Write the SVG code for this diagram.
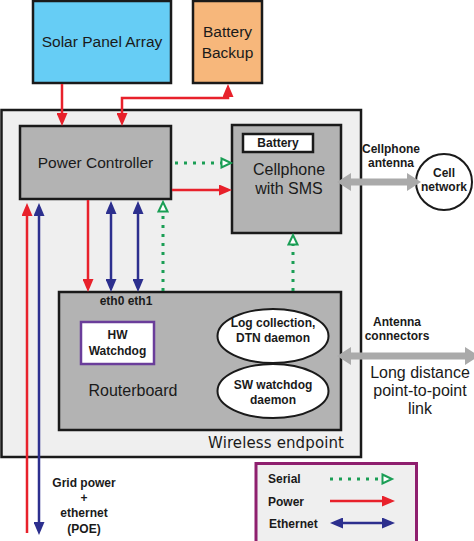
<svg xmlns="http://www.w3.org/2000/svg" width="474" height="541" viewBox="0 0 474 541">
<style>
.box{stroke:#1a1a1a;stroke-width:2.5}
.t{font-family:"Liberation Sans",Arial,sans-serif;fill:#1a1a1a;text-anchor:middle}
.r{font-size:16px}
.b{font-size:12px;font-weight:bold}
.red{stroke:#e8212b;stroke-width:2.5;fill:none}
.blue{stroke:#2c2f8e;stroke-width:2.5;fill:none}
.green{stroke:#1a9e55;stroke-width:3;stroke-dasharray:3 6;fill:none}
.gray{stroke:#aaaaaa;stroke-width:7;fill:none}
</style>
<defs>
<marker id="ar" markerUnits="userSpaceOnUse" markerWidth="13" markerHeight="11" refX="9" refY="5.5" orient="auto-start-reverse"><path d="M0,0 L13,5.5 L0,11 z" fill="#e8212b"/></marker>
<marker id="ab" markerUnits="userSpaceOnUse" markerWidth="13" markerHeight="11" refX="9" refY="5.5" orient="auto-start-reverse"><path d="M0,0 L13,5.5 L0,11 z" fill="#2c2f8e"/></marker>
<marker id="ag" markerUnits="userSpaceOnUse" markerWidth="14" markerHeight="12" refX="2" refY="6" orient="auto-start-reverse"><path d="M1.5,1.5 L11,6 L1.5,10.5 z" fill="#ffffff" stroke="#1a9e55" stroke-width="2"/></marker>
<marker id="ay" markerUnits="userSpaceOnUse" markerWidth="14" markerHeight="18" refX="4" refY="9" orient="auto-start-reverse"><path d="M0,0 L14,9 L0,18 z" fill="#aaaaaa"/></marker>
</defs>
<rect width="474" height="541" fill="#ffffff"/>

<g id="wireless-endpoint">
<rect class="box" x="1.5" y="110" width="359.5" height="347" fill="#efefef"/>
<text class="t" x="276" y="448" style="font-family:'DejaVu Sans',sans-serif;font-size:15px" textLength="136">Wireless endpoint</text>
</g>

<g id="solar-panel-array">
<rect class="box" x="33" y="1" width="138" height="82" fill="#66cdf5"/>
<text class="t r" x="102" y="47" style="font-size:15.5px">Solar Panel Array</text>
</g>

<g id="battery-backup">
<rect class="box" x="193" y="1" width="69" height="82" fill="#f7b77b"/>
<text class="t r" x="227.5" y="37" style="font-size:15.5px">Battery</text>
<text class="t r" x="227.5" y="58" style="font-size:15.5px">Backup</text>
</g>

<g id="power-controller">
<rect class="box" x="20" y="126" width="151" height="73" fill="#b3b3b3"/>
<text class="t r" x="95.5" y="168" style="font-size:15.5px">Power Controller</text>
</g>

<g id="cellphone">
<rect class="box" x="232" y="125" width="109" height="108" fill="#b3b3b3"/>
<rect class="box" x="243" y="134" width="70" height="18" fill="#ffffff"/>
<text class="t b" x="278" y="147">Battery</text>
<text class="t r" x="289" y="175">Cellphone</text>
<text class="t r" x="289" y="194">with SMS</text>
</g>

<g id="cell-network">
<circle cx="444" cy="182" r="28" fill="#ffffff" stroke="#1a1a1a" stroke-width="2"/>
<text class="t b" x="444" y="177">Cell</text>
<text class="t b" x="444" y="191">network</text>
</g>

<g id="routerboard">
<rect class="box" x="59" y="292" width="282" height="138" fill="#b3b3b3"/>
<text class="t b" x="112" y="305">eth0</text>
<text class="t b" x="140" y="305">eth1</text>
<text class="t r" x="133" y="396">Routerboard</text>
</g>

<g id="hw-watchdog">
<rect x="81" y="322" width="73" height="42" fill="#ffffff" stroke="#6a3d9a" stroke-width="2.5"/>
<text class="t b" x="117.5" y="339">HW</text>
<text class="t b" x="117.5" y="355">Watchdog</text>
</g>

<g id="log-collection">
<ellipse cx="273" cy="336" rx="55.5" ry="27" fill="#ffffff" stroke="#1a1a1a" stroke-width="2"/>
<text class="t b" x="273" y="327">Log collection,</text>
<text class="t b" x="273" y="342">DTN daemon</text>
</g>

<g id="sw-watchdog">
<ellipse cx="273" cy="391" rx="55.5" ry="27" fill="#ffffff" stroke="#1a1a1a" stroke-width="2"/>
<text class="t b" x="273" y="389">SW watchdog</text>
<text class="t b" x="273" y="404">daemon</text>
</g>

<g id="labels">
<text class="t b" x="391" y="153">Cellphone</text>
<text class="t b" x="391" y="167">antenna</text>
<text class="t b" x="397" y="326">Antenna</text>
<text class="t b" x="397" y="340">connectors</text>
<text class="t r" x="420" y="378">Long distance</text>
<text class="t r" x="420" y="396">point-to-point</text>
<text class="t r" x="420" y="414">link</text>
<text class="t b" x="84" y="487">Grid power</text>
<text class="t b" x="84" y="502">+</text>
<text class="t b" x="84" y="517">ethernet</text>
<text class="t b" x="84" y="533">(POE)</text>
</g>

<g id="connectors">
<line class="red" x1="62" y1="84" x2="62" y2="122" marker-end="url(#ar)"/>
<polyline class="red" points="122,122 122,98 228,98 228,88" marker-start="url(#ar)" marker-end="url(#ar)"/>
<line class="green" x1="175" y1="163" x2="222" y2="163" marker-end="url(#ag)"/>
<line class="red" x1="172" y1="190" x2="228" y2="190" marker-end="url(#ar)"/>
<line class="red" x1="88" y1="200" x2="88" y2="288" marker-end="url(#ar)"/>
<line class="blue" x1="111" y1="205" x2="111" y2="288" marker-start="url(#ab)" marker-end="url(#ab)"/>
<line class="blue" x1="138" y1="205" x2="138" y2="288" marker-start="url(#ab)" marker-end="url(#ab)"/>
<line class="green" x1="163" y1="291" x2="163" y2="211" marker-end="url(#ag)"/>
<line class="green" x1="293" y1="291" x2="293" y2="244" marker-end="url(#ag)"/>
<line class="red" x1="27" y1="533" x2="27" y2="207" marker-end="url(#ar)"/>
<line class="blue" x1="39" y1="207" x2="39" y2="531" marker-start="url(#ab)" marker-end="url(#ab)"/>
<line class="gray" x1="347" y1="182" x2="411" y2="182" marker-start="url(#ay)" marker-end="url(#ay)"/>
<line class="gray" x1="347" y1="356" x2="469" y2="356" marker-start="url(#ay)" marker-end="url(#ay)"/>
</g>

<g id="legend">
<rect x="256" y="463.5" width="160.5" height="80" fill="#efefef" stroke="#8e1f6e" stroke-width="3"/>
<text class="t b" x="268" y="483" style="text-anchor:start">Serial</text>
<text class="t b" x="268" y="506" style="text-anchor:start">Power</text>
<text class="t b" x="269" y="528" style="text-anchor:start">Ethernet</text>
<line class="green" x1="330" y1="479" x2="383" y2="479" marker-end="url(#ag)"/>
<line class="red" x1="330" y1="501" x2="391" y2="501" marker-end="url(#ar)"/>
<line class="blue" x1="334" y1="523" x2="391" y2="523" marker-start="url(#ab)" marker-end="url(#ab)"/>
</g>
</svg>
